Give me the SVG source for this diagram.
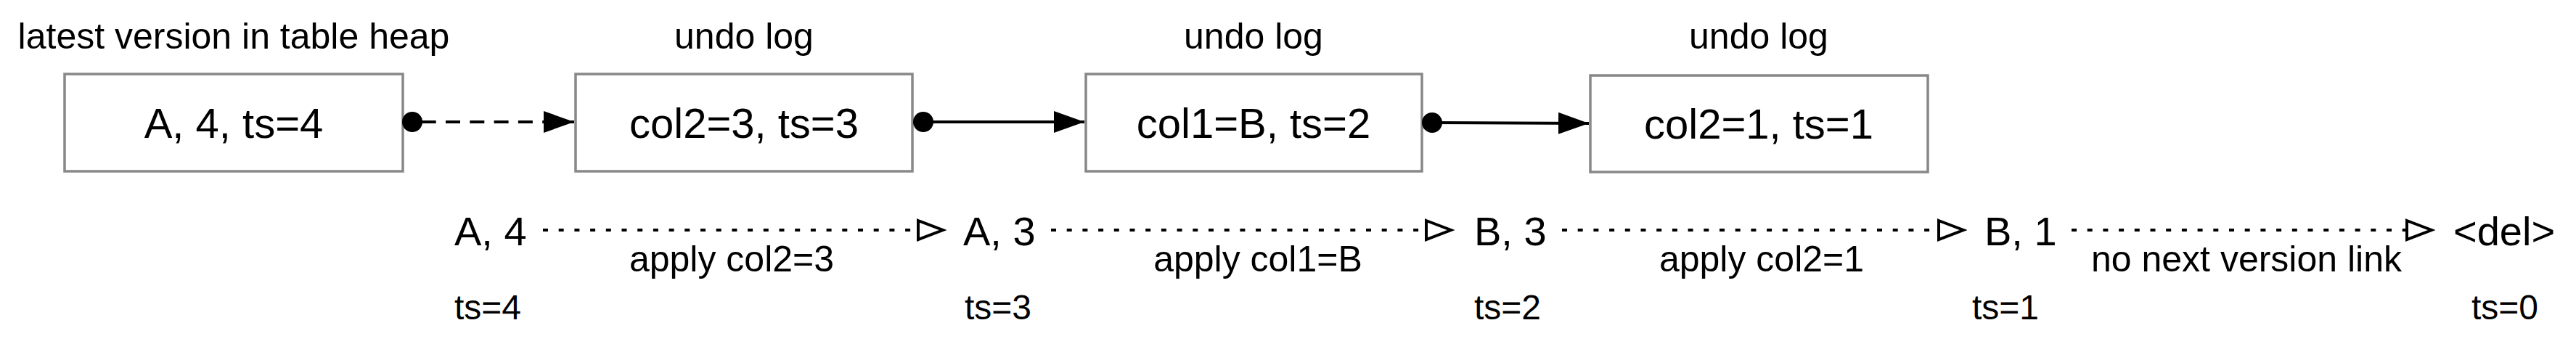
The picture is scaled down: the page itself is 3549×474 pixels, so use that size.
<svg xmlns="http://www.w3.org/2000/svg" width="3549" height="474" viewBox="0 0 3549 474">
<style>
  text { font-family: "Liberation Sans", Arial, Helvetica, sans-serif; fill: #000; }
  .hdr { font-size: 50px; text-anchor: middle; }
  .box { fill: #fff; stroke: #888888; stroke-width: 3.5; }
  .boxtxt { font-size: 58px; text-anchor: middle; }
  .ver { font-size: 56px; }
  .ts { font-size: 48px; }
  .elbl { font-size: 50px; text-anchor: middle; }
  .link { fill: none; stroke: #000; stroke-width: 4; }
  .dashed { stroke-dasharray: 20 13.3; stroke-dashoffset: -12.7; }
  .dotted { fill: none; stroke: #000; stroke-width: 4; stroke-dasharray: 7 14.7; }
</style>
<defs>
  <marker id="dot" viewBox="0 0 28 28" refX="14" refY="14" markerWidth="28" markerHeight="28" markerUnits="userSpaceOnUse" orient="auto">
    <circle cx="14" cy="14" r="14" fill="#000"/>
  </marker>
  <marker id="solidArrow" viewBox="0 0 42 30" refX="42" refY="15" markerWidth="42" markerHeight="30" markerUnits="userSpaceOnUse" orient="auto">
    <path d="M0,0 L42,15 L0,30 Z" fill="#000"/>
  </marker>
  <marker id="openArrow" viewBox="-3 -3 42 32" refX="34" refY="13" markerWidth="42" markerHeight="32" markerUnits="userSpaceOnUse" orient="auto">
    <path d="M0,0 L34,13 L0,26 Z" fill="#fff" stroke="#000" stroke-width="4" stroke-linejoin="miter"/>
  </marker>
</defs>

<g id="node-latest">
  <text class="hdr" x="322" y="67">latest version in table heap</text>
  <rect class="box" x="89" y="102" width="466" height="134"/>
  <text class="boxtxt" x="322" y="190">A, 4, ts=4</text>
</g>
<g id="node-undo1">
  <text class="hdr" x="1025" y="67">undo log</text>
  <rect class="box" x="793" y="102" width="464" height="134"/>
  <text class="boxtxt" x="1025" y="190">col2=3, ts=3</text>
</g>
<g id="node-undo2">
  <text class="hdr" x="1727" y="67">undo log</text>
  <rect class="box" x="1496" y="102" width="463" height="134"/>
  <text class="boxtxt" x="1727" y="190">col1=B, ts=2</text>
</g>
<g id="node-undo3">
  <text class="hdr" x="2423" y="67">undo log</text>
  <rect class="box" x="2191" y="104" width="465" height="133"/>
  <text class="boxtxt" x="2423" y="191">col2=1, ts=1</text>
</g>

<g id="ver-a4">
  <text class="ver" x="626" y="338">A, 4</text>
  <text class="ts" x="626" y="440">ts=4</text>
</g>
<g id="ver-a3">
  <text class="ver" x="1327" y="338">A, 3</text>
  <text class="ts" x="1329" y="440">ts=3</text>
</g>
<g id="ver-b3">
  <text class="ver" x="2031" y="338">B, 3</text>
  <text class="ts" x="2031" y="440">ts=2</text>
</g>
<g id="ver-b1">
  <text class="ver" x="2734" y="338">B, 1</text>
  <text class="ts" x="2717" y="440">ts=1</text>
</g>
<g id="ver-del">
  <text class="ver" x="3380" y="338">&lt;del&gt;</text>
  <text class="ts" x="3405" y="440">ts=0</text>
</g>

<g id="connectors">
  <path class="link dashed" d="M568,168 L791,168" marker-start="url(#dot)" marker-end="url(#solidArrow)"/>
  <path class="link" d="M1272,168 L1494,168" marker-start="url(#dot)" marker-end="url(#solidArrow)"/>
  <path class="link" d="M1973,169 L2189,170" marker-start="url(#dot)" marker-end="url(#solidArrow)"/>

  <path class="dotted" d="M748,317 L1299,317" marker-end="url(#openArrow)"/>
  <path class="dotted" d="M1448,317 L1999,317" marker-end="url(#openArrow)"/>
  <path class="dotted" d="M2152,317 L2705,317" marker-end="url(#openArrow)"/>
  <path class="dotted" d="M2854,317 L3350,317" marker-end="url(#openArrow)"/>

  <text class="elbl" x="1008" y="374">apply col2=3</text>
  <text class="elbl" x="1733" y="374">apply col1=B</text>
  <text class="elbl" x="2427" y="374">apply col2=1</text>
  <text class="elbl" x="3095" y="374">no next version link</text>
</g>
</svg>
